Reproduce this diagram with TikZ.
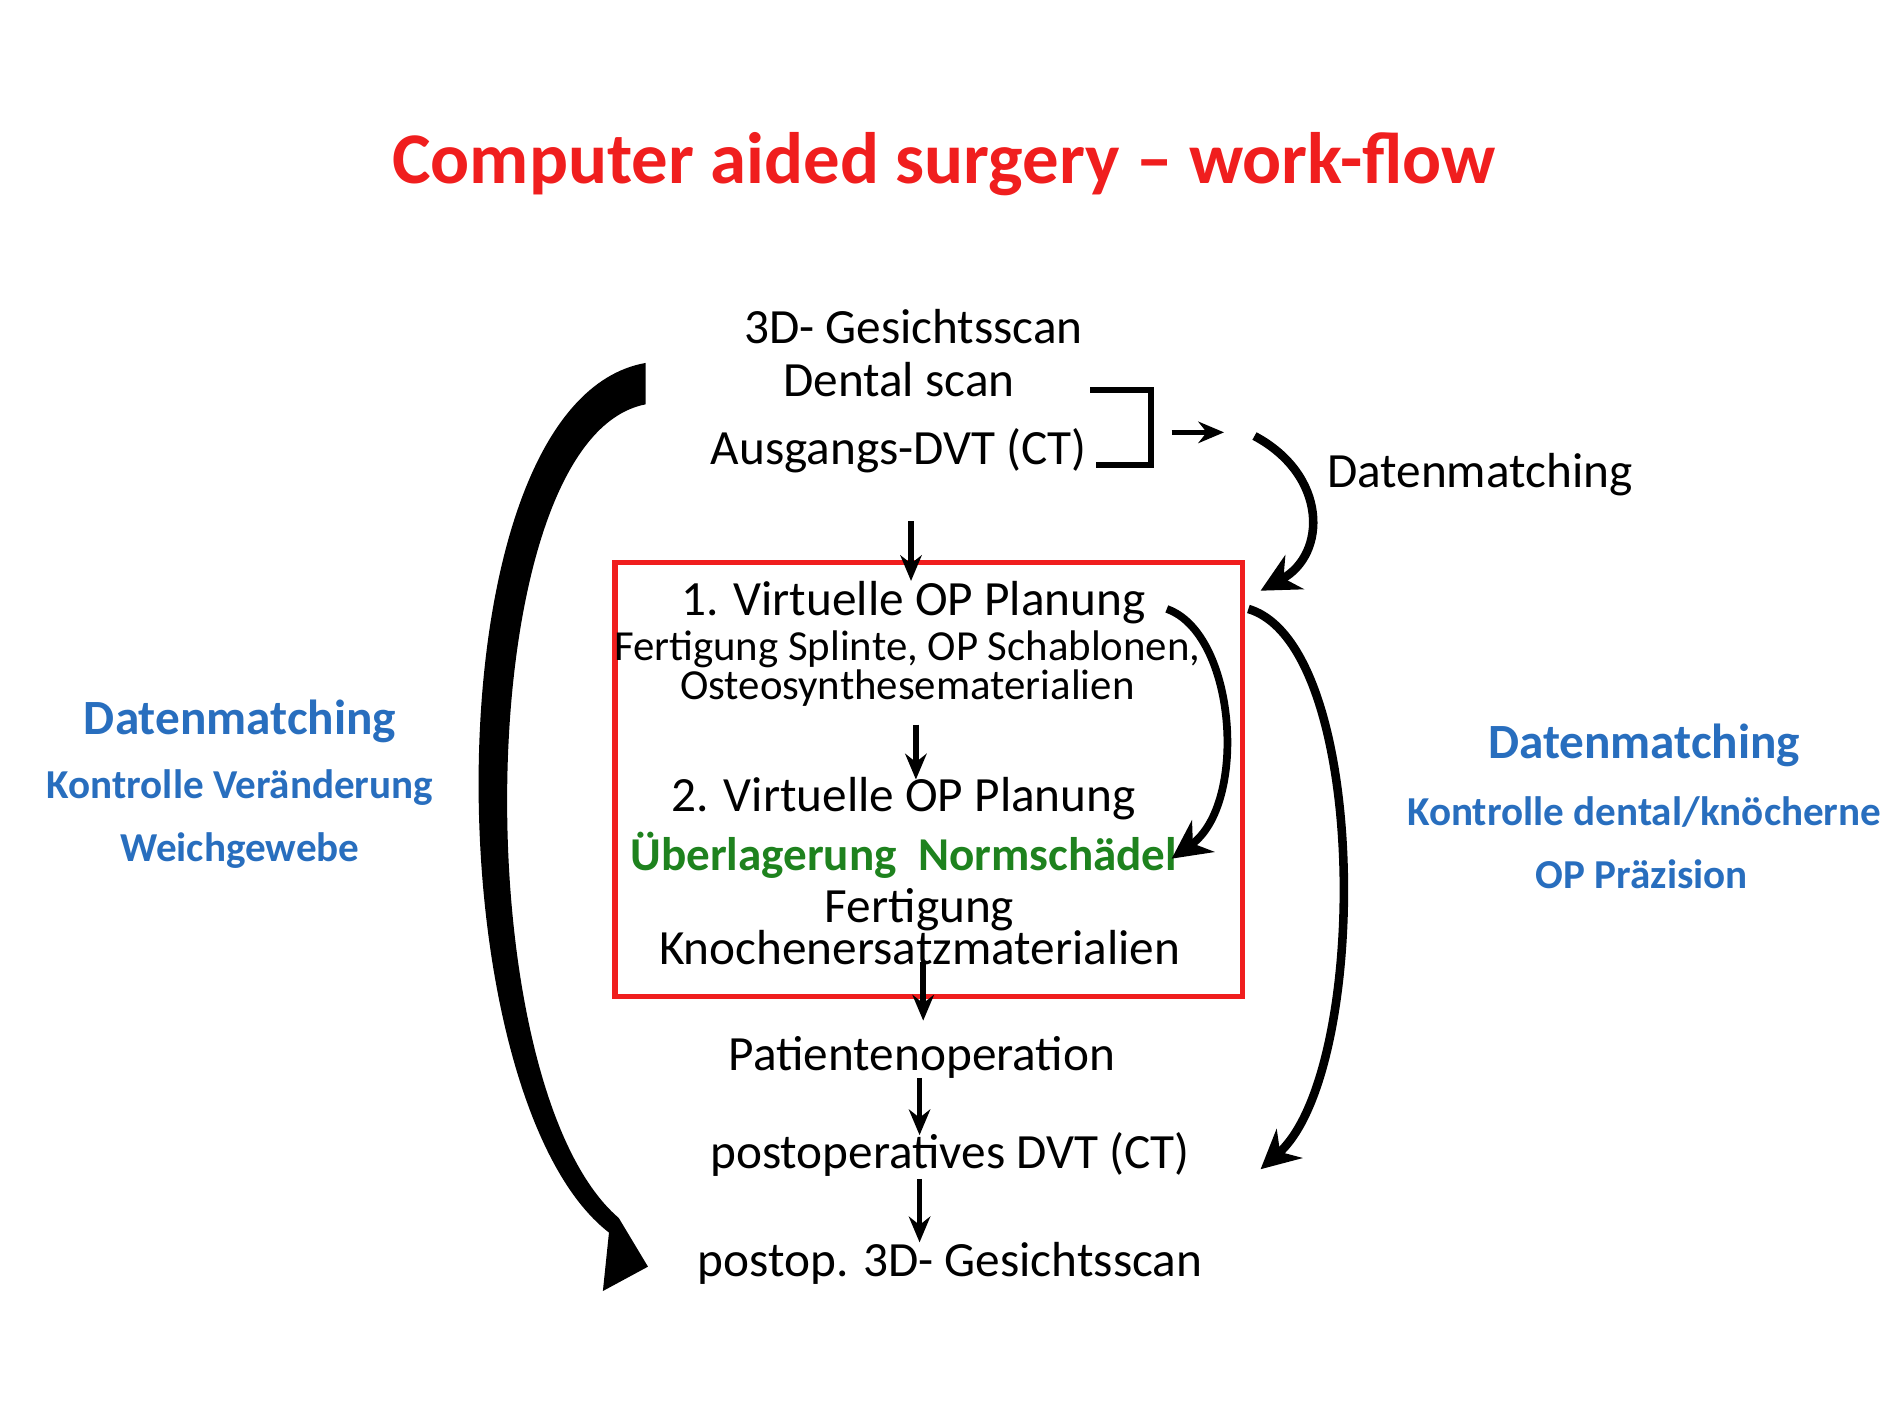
\documentclass[tikz,border=0pt]{standalone}
\usepackage{fontspec}
\setmainfont{Carlito}
\usetikzlibrary{arrows.meta}
\definecolor{titlered}{RGB}{240,30,30}
\definecolor{matchblue}{RGB}{40,110,190}
\definecolor{normgreen}{RGB}{30,130,30}
\tikzset{
  stage/.style = {font=\fontsize{11.5}{12}\selectfont, inner sep=1pt},
  small/.style = {font=\fontsize{10}{11}\selectfont, inner sep=1pt},
  note/.style = {font=\bfseries\fontsize{9.6}{11}\selectfont, text=matchblue, inner sep=1pt},
  flow/.style = {-{Stealth[length=6pt,width=5pt]}, line width=1.3pt},
  loop/.style = {-{Stealth[length=9pt,width=9pt]}, line width=2pt}
}
\begin{document}
\begin{tikzpicture}[x=0.01cm, y=-0.01cm]
\useasboundingbox (0,0) rectangle (1560,1170);
% title
\node[text=titlered, font=\bfseries\fontsize{17}{18}\selectfont] (title) at (775,135) {Computer aided surgery -- work-flow};
% input scans
\node[stage] (face) at (750,268) {3D- Gesichtsscan};
\node[stage] (dental) at (738,312) {Dental scan};
\node[stage] (dvt) at (738,370) {Ausgangs-DVT (CT)};
\coordinate (b1) at (895,320);
\coordinate (b2) at (945,320);
\coordinate (b3) at (945,382);
\coordinate (b4) at (900,382);
\draw[line width=1.3pt] (b1) -- (b2) -- (b3) -- (b4);
\coordinate (m1) at (962,355);
\coordinate (m2) at (1005,355);
\draw[flow] (m1) -- (m2);
\node[stage] (match) at (1215,390) {Datenmatching};
\coordinate (c1) at (1030,358);
\coordinate (c2) at (1035,485);
\draw[loop] (c1) .. controls (1090,390) and (1090,455) .. (c2);
% planning box
\draw[draw=titlered, line width=1.3pt] (505,462) rectangle (1020,818);
\coordinate (d1) at (748,428);
\coordinate (d2) at (748,477);
\draw[flow] (d1) -- (d2);
\node[stage] (plan1) at (750,495) {1. Virtuelle OP Planung};
\node[small] (splint) at (745,533) {Fertigung Splinte, OP Schablonen,};
\node[small] (osteo) at (745,565) {Osteosynthesematerialien};
\coordinate (e1) at (752,595);
\coordinate (e2) at (752,640);
\draw[flow] (e1) -- (e2);
\node[stage] (plan2) at (742,656) {2. Virtuelle OP Planung};
\node[stage, text=normgreen, font=\bfseries\fontsize{11}{12}\selectfont] (norm) at (742,702) {Überlagerung~ Normschädel};
\node[stage] (fert) at (755,747) {Fertigung};
\node[stage] (knochen) at (755,778) {Knochenersatzmaterialien};
\coordinate (i1) at (958,500);
\coordinate (i2) at (962,705);
\draw[loop, line width=1.8pt] (i1) .. controls (1015,520) and (1025,660) .. (i2);
% operation
\coordinate (f1) at (758,790);
\coordinate (f2) at (758,838);
\draw[flow] (f1) -- (f2);
\node[stage] (op) at (757,868) {Patientenoperation};
\coordinate (g1) at (755,885);
\coordinate (g2) at (755,932);
\draw[flow] (g1) -- (g2);
\node[stage] (postdvt) at (780,948) {postoperatives DVT (CT)};
\coordinate (h1) at (755,968);
\coordinate (h2) at (755,1020);
\draw[flow] (h1) -- (h2);
\node[stage] (postface) at (780,1037) {postop. 3D- Gesichtsscan};
% right loop
\coordinate (r1) at (1025,500);
\coordinate (r2) at (1035,960);
\draw[loop] (r1) .. controls (1125,530) and (1125,880) .. (r2);
% left loop
\fill (530,298) .. controls (350,330) and (355,900) .. (500,1012)
  -- (495,1060) -- (532,1040) -- (508,1000)
  .. controls (380,890) and (385,360) .. (530,332) -- cycle;
% labels
\node[note, font=\bfseries\fontsize{11.5}{12}\selectfont] (lmatch) at (197,592) {Datenmatching};
\node[note] (lkon) at (197,647) {Kontrolle Veränderung};
\node[note] (lweich) at (197,698) {Weichgewebe};
\node[note, font=\bfseries\fontsize{11.5}{12}\selectfont] (rmatch) at (1350,612) {Datenmatching};
\node[note] (rkon) at (1350,667) {Kontrolle dental/knöcherne};
\node[note] (rpraez) at (1348,718) {OP Präzision};
\end{tikzpicture}
\end{document}
